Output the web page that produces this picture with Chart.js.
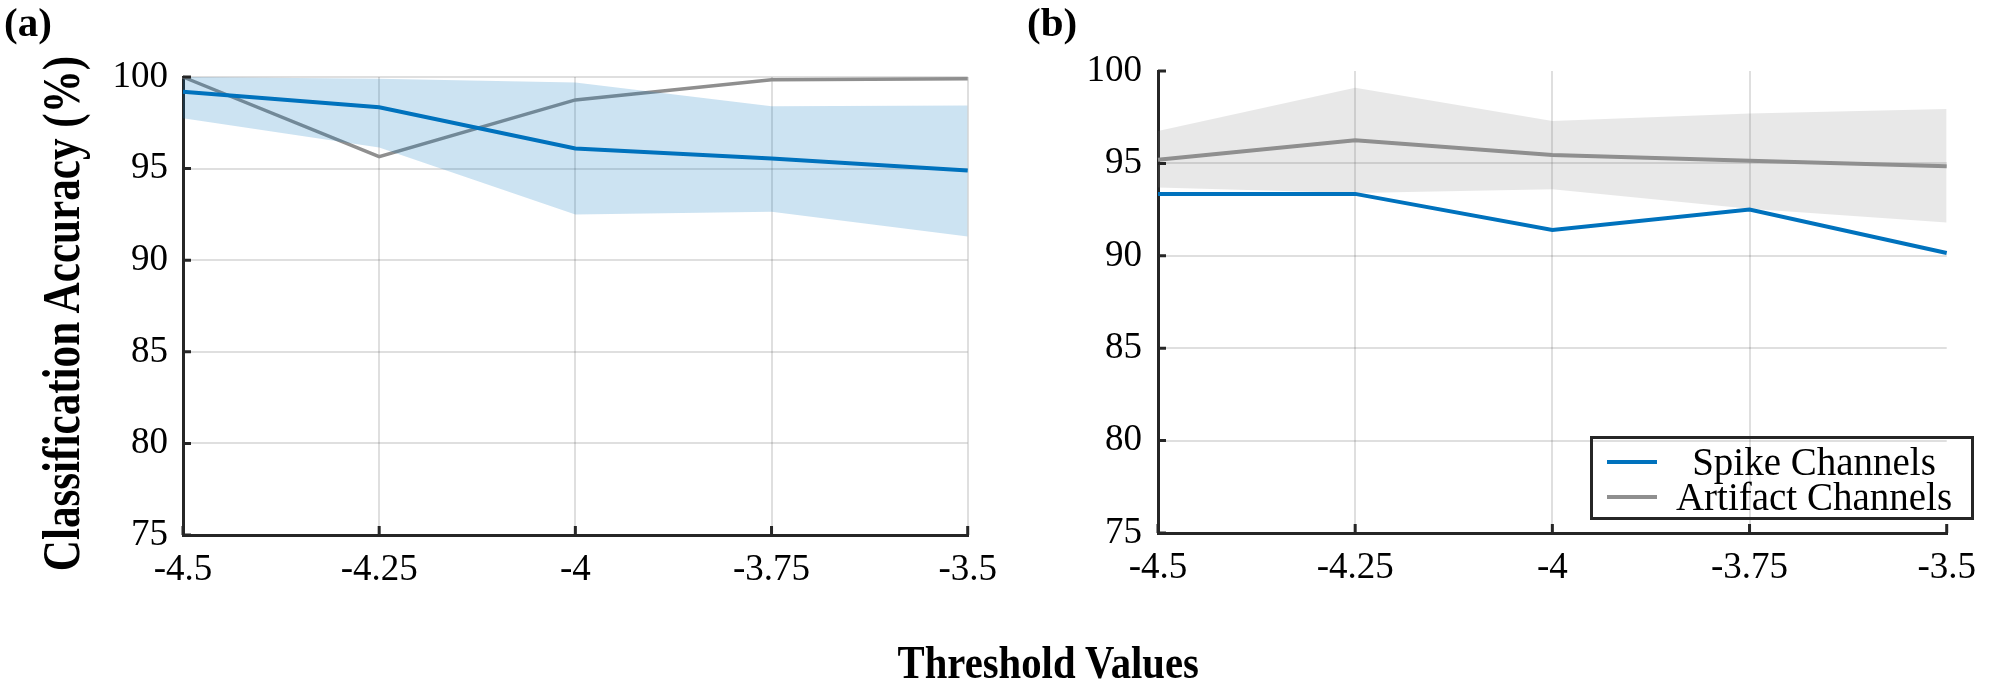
<!DOCTYPE html>
<html>
<head>
<meta charset="utf-8">
<script src="https://cdn.jsdelivr.net/npm/chart.js@4.4.1/dist/chart.umd.min.js"></script>
<style>
  html, body { margin: 0; padding: 0; background: #fff; overflow: hidden; }
  #fig { position: relative; width: 1989px; height: 685px; font-family: "Liberation Serif", "Times New Roman", serif; color: #000; }
  canvas { position: absolute; top: 0; }
  #cA { left: 0; }
  #cB { left: 1000px; }
  .lab { position: absolute; font-weight: bold; white-space: nowrap; }
  #la, #lb { font-size: 41px; line-height: 41px; top: 2px; }
  #la { left: 4px; }
  #lb { left: 1027px; }
  #ytitle { left: 36px; top: 624px; width: 600px; height: 52px; font-size: 52px; line-height: 52px; text-align: center; transform-origin: 0 0; transform: rotate(-90deg); }
  #xtitle { left: 748px; top: 640px; width: 600px; font-size: 46px; line-height: 46px; text-align: center; }
  .squeeze { display: inline-block; }
  #ytitle .squeeze { transform: scaleX(0.83); }
  #xtitle .squeeze { transform: scaleX(0.885); }
  #legend { position: absolute; left: 1590px; top: 436px; width: 384px; height: 84px; box-sizing: border-box; border: 3px solid #262626; padding-top: 5px; }
  .row { display: flex; align-items: center; height: 35px; }
  .sample { display: inline-block; width: 50px; height: 4px; margin-left: 14px; }
  .txt { flex: 1; text-align: center; font-size: 39px; line-height: 35px; }
</style>
</head>
<body>
<div id="fig">
  <canvas id="cA" width="1010" height="685"></canvas>
  <canvas id="cB" width="989" height="685"></canvas>
  <div class="lab" id="la">(a)</div>
  <div class="lab" id="lb">(b)</div>
  <div class="lab" id="ytitle"><span class="squeeze">Classification Accuracy (%)</span></div>
  <div class="lab" id="xtitle"><span class="squeeze">Threshold Values</span></div>
  <div id="legend"></div>
</div>
<script>
// threshold values (x categories / tick labels)
const thresholds = ["-4.5", "-4.25", "-4", "-3.75", "-3.5"];

// panel (a)
const spikeA = [99.2, 98.35, 96.1, 95.55, 94.9];
const spikeA_hi = [100, 99.9, 99.7, 98.4, 98.45];
const spikeA_lo = [97.75, 96.15, 92.5, 92.65, 91.3];
const artifactA = [100, 95.65, 98.75, 99.85, 99.9];

// panel (b)
const spikeB = [93.35, 93.35, 91.4, 92.5, 90.15];
const artifactB = [95.2, 96.25, 95.45, 95.15, 94.85];
const artifactB_hi = [96.75, 99.1, 97.3, 97.7, 97.95];
const artifactB_lo = [93.7, 93.4, 93.6, 92.55, 91.8];

const yMin = 75, yMax = 100, yStep = 5;

const blue = "#0072BD";
const grey = "#8f8f8f";
const axisColor = "#262626";
const gridColor = "rgba(38,38,38,0.15)";
const font = "'Liberation Serif', 'Times New Roman', serif";

// matlab style ticks pointing into the axes
const inwardTicks = {
  id: "inwardTicks",
  afterDatasetsDraw(chart) {
    const { ctx, chartArea, scales: { x, y } } = chart;
    ctx.save();
    ctx.strokeStyle = axisColor;
    ctx.lineWidth = 3;
    ctx.beginPath();
    x.ticks.forEach((t, i) => {
      const px = x.getPixelForTick(i);
      ctx.moveTo(px, chartArea.bottom);
      ctx.lineTo(px, chartArea.bottom - 9);
    });
    y.ticks.forEach((t, i) => {
      const py = y.getPixelForTick(i);
      ctx.moveTo(chartArea.left, py);
      ctx.lineTo(chartArea.left + 8, py);
    });
    ctx.stroke();
    ctx.restore();
  }
};

function lineSet(label, data, color, order, width) {
  return { label, data, borderColor: color, backgroundColor: color, borderWidth: width,
           pointRadius: 0, tension: 0, fill: false, order, clip: 6 };
}

function bandSet(data, fillTo, color, order) {
  return { label: "", data, borderColor: "transparent", borderWidth: 0, backgroundColor: color,
           pointRadius: 0, tension: 0, fill: fillTo, order };
}

function makeOptions(yWidth, tickPad, pad, hideTop) {
  return {
    responsive: false,
    animation: false,
    layout: { padding: pad },
    plugins: { legend: { display: false }, tooltip: { enabled: false } },
    scales: {
      x: {
        type: "category",
        offset: false,
        afterFit: s => { s.height = 50; },
        grid: {
          drawTicks: false, lineWidth: 2,
          color: c => (hideTop && c.index === thresholds.length - 1) ? "rgba(0,0,0,0)" : gridColor
        },
        border: { display: true, color: axisColor, width: 3 },
        ticks: { padding: 13, color: "#000", font: { family: font, size: 37 }, maxRotation: 0, autoSkip: false }
      },
      y: {
        min: yMin, max: yMax,
        afterFit: s => { s.width = yWidth; },
        grid: {
          drawTicks: false, lineWidth: 2,
          color: c => (hideTop && c.tick && c.tick.value === yMax) ? "rgba(0,0,0,0)" : gridColor
        },
        border: { display: true, color: axisColor, width: 3 },
        ticks: { stepSize: yStep, padding: tickPad, color: "#000", font: { family: font, size: 37 } }
      }
    }
  };
}

new Chart(document.getElementById("cA"), {
  type: "line",
  data: {
    labels: thresholds,
    datasets: [
      lineSet("Spike Channels", spikeA, blue, 0, 4),
      bandSet(spikeA_hi, 2, "rgba(0,114,189,0.2)", 1),
      bandSet(spikeA_lo, false, "rgba(0,0,0,0)", 1),
      lineSet("Artifact Channels", artifactA, grey, 2, 3.5)
    ]
  },
  options: makeOptions(183, 15, { top: 77, right: 34, bottom: 100, left: 0 }, false),
  plugins: [inwardTicks]
});

const chartB = new Chart(document.getElementById("cB"), {
  type: "line",
  data: {
    labels: thresholds,
    datasets: [
      lineSet("Spike Channels", spikeB, blue, 0, 4),
      lineSet("Artifact Channels", artifactB, grey, 1, 4),
      bandSet(artifactB_hi, 3, "rgba(128,128,128,0.18)", 2),
      bandSet(artifactB_lo, false, "rgba(0,0,0,0)", 2)
    ]
  },
  options: makeOptions(158, 16, { top: 71, right: 37, bottom: 102, left: 0 }, true),
  plugins: [inwardTicks]
});

// legend box for panel (b)
const legendBox = document.getElementById("legend");
chartB.data.datasets.filter(d => d.label).forEach(d => {
  const row = document.createElement("div");
  row.className = "row";
  row.innerHTML = `<span class="sample" style="background:${d.borderColor}"></span><span class="txt">${d.label}</span>`;
  legendBox.appendChild(row);
});
</script>
</body>
</html>
